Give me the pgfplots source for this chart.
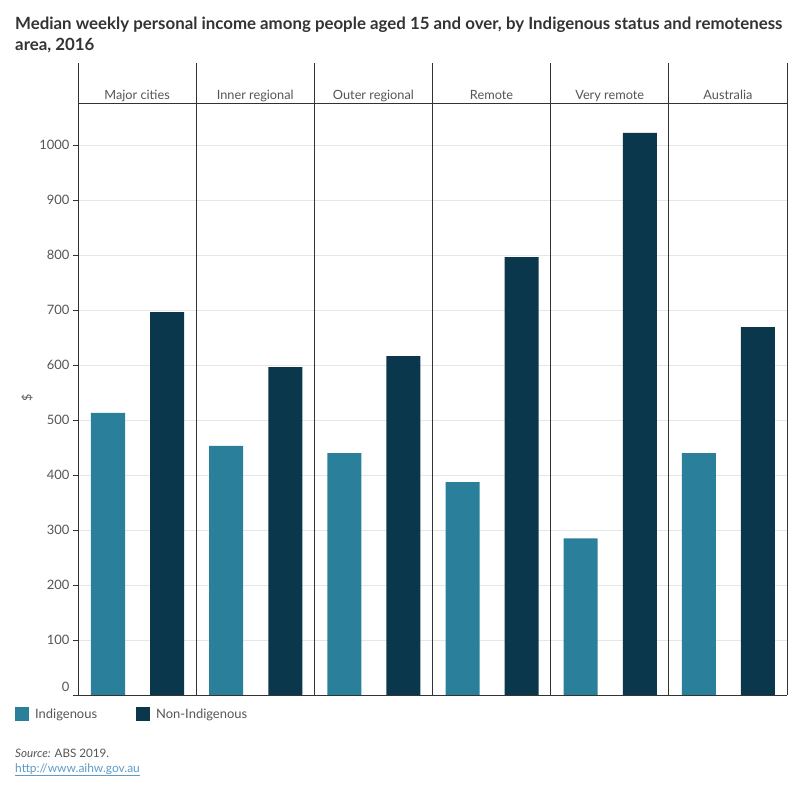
\documentclass[border=0pt]{standalone}
\usepackage{pgfplots}
\pgfplotsset{compat=1.18}
\usepackage{fontspec}
\setmainfont{Lato}
\definecolor{ind}{HTML}{2A7F9A}
\definecolor{non}{HTML}{0B374D}
\definecolor{txt}{HTML}{333333}
\definecolor{lbl}{HTML}{555555}
\definecolor{gridc}{HTML}{E6E6E6}
\definecolor{framec}{HTML}{333333}
\definecolor{link}{HTML}{5F9BC6}
\begin{document}
\begin{tikzpicture}
\useasboundingbox (0bp,0bp) rectangle (800bp,800bp);
\node[anchor=base west, inner sep=0, text=txt, font=\bfseries\fontsize{16.9}{20}\selectfont] at (15bp,770.5bp) {Median weekly personal income among people aged 15 and over, by Indigenous status and remoteness};
\node[anchor=base west, inner sep=0, text=txt, font=\bfseries\fontsize{16.9}{20}\selectfont] at (15bp,749bp) {area, 2016};
\begin{axis}[
  at={(78bp,105bp)}, anchor=south west,
  width=709bp, height=592bp, scale only axis,
  xmin=0, xmax=6, ymin=0, ymax=1076.4,
  clip=false,
  axis line style={draw=none},
  xtick=\empty,
  ytick={0,100,...,1000},
  ytick pos=left,
  yticklabels={\smash{\raisebox{3.5bp}{0}},100,200,300,400,500,600,700,800,900,1000},
  tick align=outside,
  major tick length=5bp,
  ytick style={framec, line width=0.8pt},
  yticklabel style={text=lbl, font=\fontsize{13}{14}\selectfont},
  ymajorgrids,
  grid style={gridc, line width=0.7pt},
  ylabel={\$},
  ylabel style={at={(axis description cs:-0.0719,0.5017)}, anchor=center, text=lbl, font=\fontsize{12.5}{14}\selectfont},
  legend columns=2,
  legend style={at={(axis description cs:-0.0889,-0.0203)}, anchor=north west, draw=none, fill=none, inner sep=0pt,
    font=\fontsize{13}{14}\selectfont, text=lbl,
    nodes={inner sep=0pt},
    /tikz/every odd column/.append style={column sep=6bp},
    /tikz/every even column/.append style={column sep=39bp}},
  legend image code/.code={\fill[#1] (0bp,-7bp) rectangle (14bp,7bp);},
]
\addplot[ybar, bar width=0.288, bar shift=0pt, fill=ind, draw=none] coordinates {
  (0.254,513) (1.254,453) (2.254,440) (3.254,387) (4.254,285) (5.254,440)};
\addlegendentry{Indigenous}
\addplot[ybar, bar width=0.288, bar shift=0pt, fill=non, draw=none] coordinates {
  (0.754,696) (1.754,596) (2.754,616) (3.754,796) (4.754,1022) (5.754,669)};
\addlegendentry{Non-Indigenous}
% frame
\draw[framec, line width=0.8pt] (axis cs:0,0) -- (axis cs:6,0);
\draw[framec, line width=0.8pt] (axis cs:0,1076.4) -- (axis cs:6,1076.4);
\draw[framec, line width=0.8pt] (axis cs:0,0) -- (axis cs:0,1149.2);
\draw[framec, line width=0.8pt] (axis cs:1,0) -- (axis cs:1,1149.2);
\draw[framec, line width=0.8pt] (axis cs:2,0) -- (axis cs:2,1149.2);
\draw[framec, line width=0.8pt] (axis cs:3,0) -- (axis cs:3,1149.2);
\draw[framec, line width=0.8pt] (axis cs:4,0) -- (axis cs:4,1149.2);
\draw[framec, line width=0.8pt] (axis cs:5,0) -- (axis cs:5,1149.2);
\draw[framec, line width=0.8pt] (axis cs:6,0) -- (axis cs:6,1149.2);
\node[anchor=base, text=lbl, font=\fontsize{12.8}{14}\selectfont] at (axis description cs:0.08333,1.0062) {Major cities};
\node[anchor=base, text=lbl, font=\fontsize{12.8}{14}\selectfont] at (axis description cs:0.25,1.0062) {Inner regional};
\node[anchor=base, text=lbl, font=\fontsize{12.8}{14}\selectfont] at (axis description cs:0.41667,1.0062) {Outer regional};
\node[anchor=base, text=lbl, font=\fontsize{12.8}{14}\selectfont] at (axis description cs:0.58333,1.0062) {Remote};
\node[anchor=base, text=lbl, font=\fontsize{12.8}{14}\selectfont] at (axis description cs:0.75,1.0062) {Very remote};
\node[anchor=base, text=lbl, font=\fontsize{12.8}{14}\selectfont] at (axis description cs:0.91667,1.0062) {Australia};
\end{axis}
\node[anchor=base west, inner sep=0, text=lbl, font=\fontsize{11.7}{13}\selectfont] at (15bp,42bp) {\textit{Source:} ABS 2019.};
\node[anchor=base west, inner sep=0, text=link, font=\fontsize{12}{13}\selectfont] at (15bp,28bp) {\underline{http://www.aihw.gov.au}};
\end{tikzpicture}
\end{document}
